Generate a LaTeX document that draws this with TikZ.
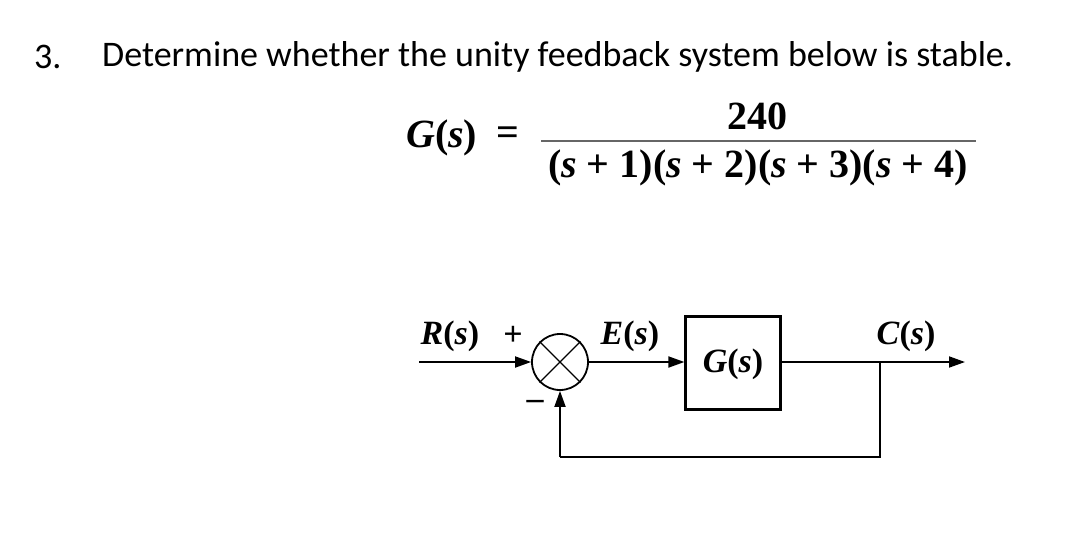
\documentclass[tikz,border=0pt]{standalone}
\usepackage{fontspec}
\setmainfont{Liberation Serif}
\newfontfamily\calib{Carlito}
\usetikzlibrary{arrows.meta}
\begin{document}
\begin{tikzpicture}[x=1pt,y=-1pt,
  lbl/.style={inner sep=0pt,font=\fontsize{34}{34}\selectfont\bfseries},
  eq/.style={inner sep=0pt,font=\fontsize{40}{40}\selectfont\bfseries},
  sig/.style={line width=1.8pt},
  arr/.style={sig,-{Triangle[length=16pt,width=11pt]}}]
\useasboundingbox (0,0) rectangle (1074,544);
\node[inner sep=0pt,anchor=west,font=\calib\fontsize{36}{36}\selectfont] (num) at (34,57) {3.};
\node[inner sep=0pt,anchor=west,font=\calib\fontsize{36}{36}\selectfont] (title) at (102,57) {Determine whether the unity feedback system below is stable.};
% equation
\node[eq,anchor=west] (Gs) at (406,138) {\textit{G}(\textit{s})};
\node[eq,anchor=west] (eqs) at (496,136) {=};
\node[eq] (numr) at (757,116) {240};
\node[eq] (den) at (758,168) {(\textit{s} + 1)(\textit{s} + 2)(\textit{s} + 3)(\textit{s} + 4)};
\coordinate (b1) at (541,141); \coordinate (b2) at (976,141);
\draw[line width=1.5pt,gray!80!black] (b1) -- (b2);
% block diagram
\coordinate (in) at (419,362);
\node[draw,circle,line width=1.8pt,minimum size=56pt,inner sep=0pt] (sum) at (560,362) {};
\draw[line width=1.3pt] (sum.north west) -- (sum.south east) (sum.north east) -- (sum.south west);
\node[draw,line width=2.2pt,minimum width=95pt,minimum height=93pt,inner sep=0pt] (G) at (733,363) {};
\node[lbl] (Gl) at (733,364) {\textit{G}(\textit{s})};
\coordinate (br) at (880,362);
\coordinate (out) at (965,362);
\coordinate (fb1) at (880,457);
\coordinate (fb2) at (560,457);
\draw[arr] (in) -- (sum.west);
\draw[arr] (sum.east) -- (G.west |- sum.east);
\draw[sig] (G.east |- br) -- (br);
\draw[arr] (br) -- (out);
\draw[sig] (br) -- (fb1) -- (fb2);
\draw[arr] (fb2) -- (sum.south);
\node[lbl] (R) at (450,336) {\textit{R}(\textit{s})};
\node[lbl] (plus) at (513,336) {+};
\node[lbl] (E) at (630,336) {\textit{E}(\textit{s})};
\node[lbl] (C) at (906,336) {\textit{C}(\textit{s})};
\node[lbl] (minus) at (535,405) {--};
\end{tikzpicture}
\end{document}
